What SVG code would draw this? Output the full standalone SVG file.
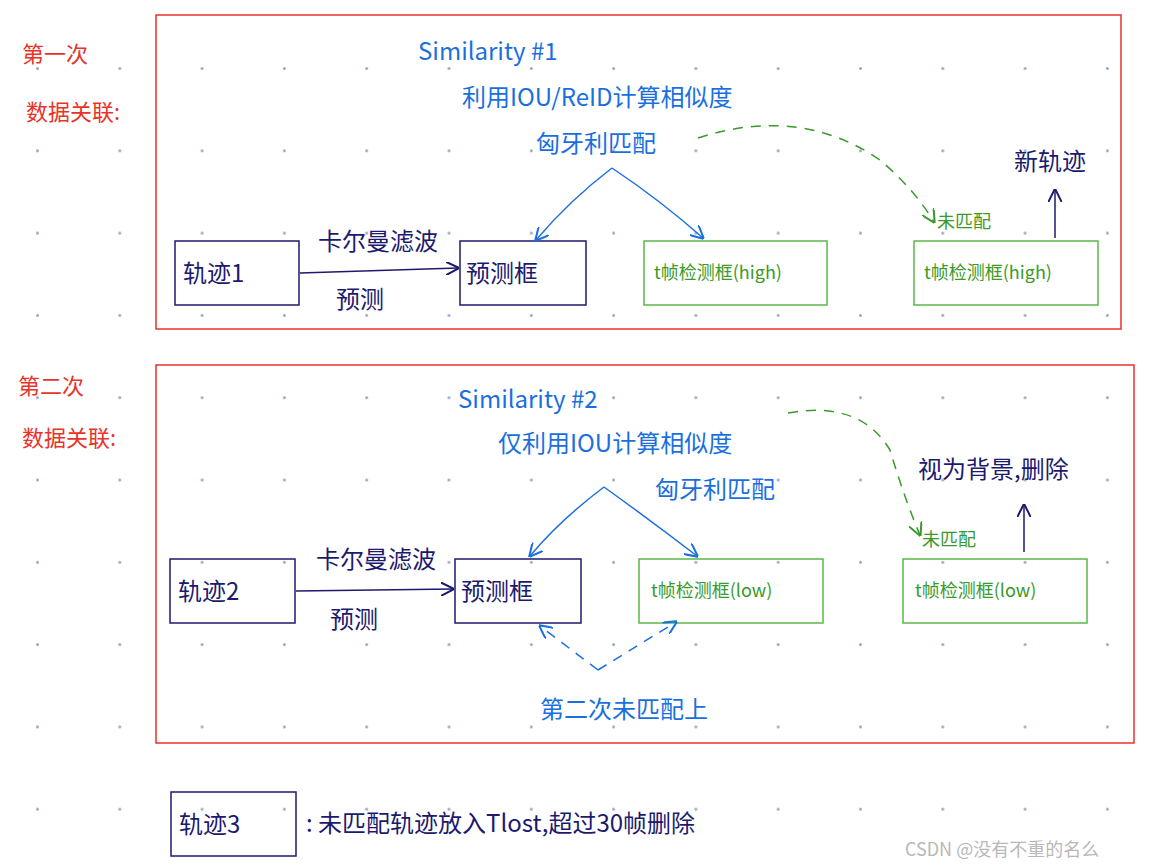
<svg xmlns="http://www.w3.org/2000/svg" width="1153" height="868" viewBox="0 0 1153 868">
<defs>
<pattern id="dots" x="36" y="67" width="82.3" height="82.3" patternUnits="userSpaceOnUse"><circle cx="1.5" cy="1.5" r="1.5" fill="#9aa6c8"/></pattern>
<marker id="ab" viewBox="0 0 10 10" refX="9" refY="5" markerWidth="9" markerHeight="9" orient="auto-start-reverse"><path d="M0,0 L10,5 L0,10" fill="none" stroke="#1a6fe0" stroke-width="1.5"/></marker>
<marker id="an" viewBox="0 0 10 10" refX="9" refY="5" markerWidth="9" markerHeight="9" orient="auto"><path d="M0,0 L10,5 L0,10" fill="none" stroke="#1c1a6e" stroke-width="1.5"/></marker>
<marker id="ag" viewBox="0 0 10 10" refX="9" refY="5" markerWidth="9" markerHeight="9" orient="auto"><path d="M0,0 L10,5 L0,10" fill="none" stroke="#3a9a2a" stroke-width="1.5"/></marker>
</defs>
<style>
text{font-family:"Noto Sans CJK SC","Liberation Sans",sans-serif}
.red{fill:#e8332a;font-size:22px}
.blue{fill:#1a6fe0;font-size:24px}
.navy{fill:#1c1a6e;font-size:24px}
.green{fill:#3a9a2a;font-size:18px}
.nb{fill:none;stroke:#1c1a6e;stroke-width:1.5}
.gb{fill:none;stroke:#5ab84a;stroke-width:1.5}
.frame{fill:none;stroke:#e8332a;stroke-width:1.5}
</style>
<rect width="1153" height="868" fill="#fff"/>
<rect width="1153" height="868" fill="url(#dots)"/>
<rect class="frame" x="156" y="15" width="965" height="314"/>
<rect class="frame" x="156" y="365" width="978" height="378"/>
<text class="red" x="22" y="62">第一次</text>
<text class="red" x="26" y="120">数据关联:</text>
<text class="red" x="18" y="394">第二次</text>
<text class="red" x="22" y="446">数据关联:</text>
<g id="n1"><rect class="nb" x="175" y="241" width="124" height="64"/><text class="navy" x="183" y="282">轨迹1</text></g>
<g id="n2"><rect class="nb" x="460" y="241" width="126" height="64"/><text class="navy" x="466" y="282">预测框</text></g>
<g id="n3"><rect class="gb" x="644" y="241" width="183" height="64"/><text class="green" x="654" y="279">t帧检测框(high)</text></g>
<g id="n4"><rect class="gb" x="914" y="241" width="184" height="64"/><text class="green" x="924" y="279">t帧检测框(high)</text></g>
<g id="n5"><rect class="nb" x="170" y="559" width="125" height="64"/><text class="navy" x="178" y="600">轨迹2</text></g>
<g id="n6"><rect class="nb" x="455" y="559" width="126" height="64"/><text class="navy" x="461" y="600">预测框</text></g>
<g id="n7"><rect class="gb" x="639" y="559" width="184" height="64"/><text class="green" x="651" y="597">t帧检测框(low)</text></g>
<g id="n8"><rect class="gb" x="903" y="559" width="184" height="64"/><text class="green" x="915" y="597">t帧检测框(low)</text></g>
<g id="n9"><rect class="nb" x="171" y="792" width="125" height="64"/><text class="navy" x="179" y="833">轨迹3</text></g>
<text class="blue" x="418" y="60" font-size="20">Similarity #1</text>
<text class="blue" x="462" y="106">利用IOU/ReID计算相似度</text>
<text class="blue" x="536" y="152">匈牙利匹配</text>
<text class="navy" x="318" y="250" font-size="22">卡尔曼滤波</text>
<text class="navy" x="336" y="308" font-size="22">预测</text>
<text class="navy" x="1014" y="170" font-size="22">新轨迹</text>
<text class="green" x="937" y="228">未匹配</text>
<text class="blue" x="458" y="408" font-size="20">Similarity #2</text>
<text class="blue" x="498" y="452">仅利用IOU计算相似度</text>
<text class="blue" x="655" y="498">匈牙利匹配</text>
<text class="navy" x="316" y="568" font-size="22">卡尔曼滤波</text>
<text class="navy" x="330" y="628" font-size="22">预测</text>
<text class="navy" x="918" y="478" font-size="22">视为背景,删除</text>
<text class="green" x="922" y="546">未匹配</text>
<text class="blue" x="540" y="718">第二次未匹配上</text>
<text class="navy" x="306" y="832" font-size="22">: 未匹配轨迹放入Tlost,超过30帧删除</text>
<text x="905" y="856" fill="#b8b8b8" font-size="18">CSDN @没有不重的名么</text>
<g id="connectors" fill="none" stroke-width="1.5">
<path d="M300,273 L458,268" stroke="#1c1a6e" marker-end="url(#an)"/>
<path d="M296,591 L453,589" stroke="#1c1a6e" marker-end="url(#an)"/>
<path d="M612,168 Q570,200 536,240" stroke="#1a6fe0" marker-end="url(#ab)"/>
<path d="M612,168 Q660,200 703,238" stroke="#1a6fe0" marker-end="url(#ab)"/>
<path d="M604,487 Q560,520 530,556" stroke="#1a6fe0" marker-end="url(#ab)"/>
<path d="M604,487 Q650,520 697,556" stroke="#1a6fe0" marker-end="url(#ab)"/>
<path d="M598,670 L540,626" stroke="#1a6fe0" stroke-dasharray="10,8" marker-end="url(#ab)"/>
<path d="M598,670 L676,622" stroke="#1a6fe0" stroke-dasharray="10,8" marker-end="url(#ab)"/>
<path d="M698,138 Q800,105 880,160 Q915,190 934,222" stroke="#3a9a2a" stroke-dasharray="10,8" marker-end="url(#ag)"/>
<path d="M788,413 Q860,400 890,450 Q905,500 920,535" stroke="#3a9a2a" stroke-dasharray="10,8" marker-end="url(#ag)"/>
<path d="M1055,238 L1055,190" stroke="#1c1a6e" marker-end="url(#an)"/>
<path d="M1024,552 L1024,505" stroke="#1c1a6e" marker-end="url(#an)"/>
</g>
</svg>
